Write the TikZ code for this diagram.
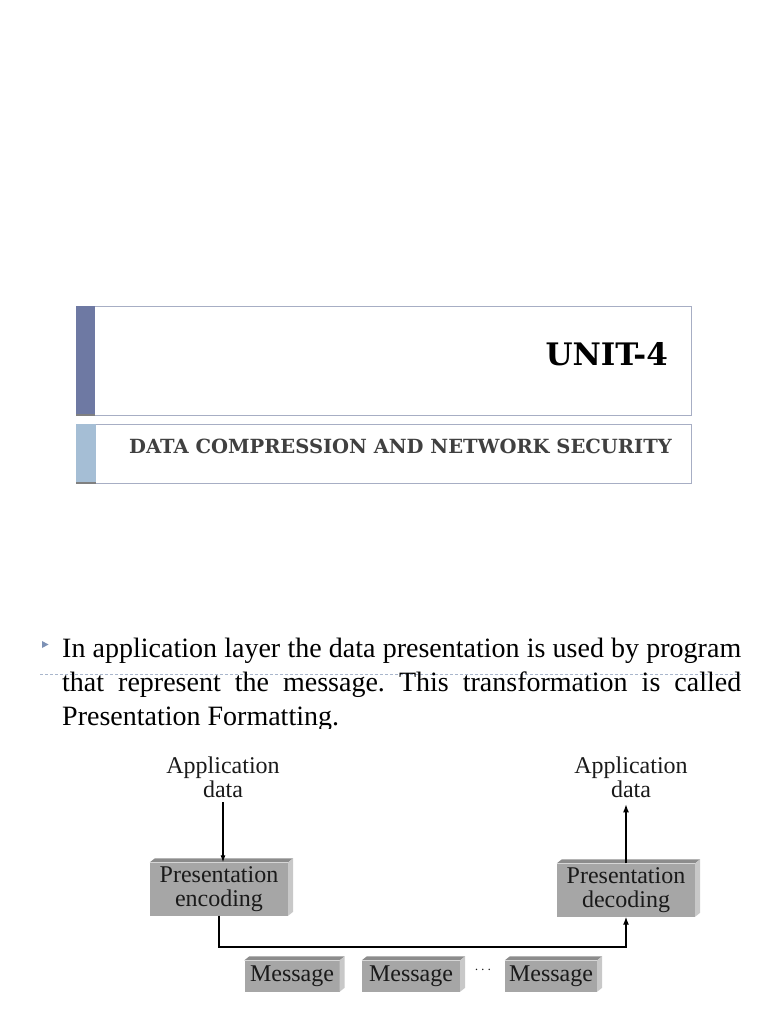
\documentclass[tikz,border=0pt]{standalone}
\usepackage{fontspec}
\setmainfont{Liberation Serif}
\newfontfamily\headfont{DejaVu Serif}
\usetikzlibrary{arrows.meta}
\definecolor{framec}{HTML}{A7AEC4}
\definecolor{barone}{HTML}{6E79A3}
\definecolor{bartwo}{HTML}{A5BED5}
\definecolor{bulletc}{HTML}{7D91B5}
\definecolor{dashc}{HTML}{A9B6CC}
\definecolor{boxfront}{HTML}{A6A6A6}
\definecolor{boxtop}{HTML}{8C8C8C}
\definecolor{boxside}{HTML}{C8C8C8}
\definecolor{subc}{HTML}{404040}
\definecolor{diatext}{HTML}{1A1A1A}
\newcommand{\facesof}[1]{%
  \fill[boxtop] (#1.north west) -- ++(5,-4) -- ([shift={(5,-4)}]#1.north east) -- (#1.north east) -- cycle;
  \fill[boxside] (#1.north east) -- ++(5,-4) -- ([shift={(5,-4)}]#1.south east) -- (#1.south east) -- cycle;}
\begin{document}
\begin{tikzpicture}[x=1bp,y=-1bp,
  hdrbox/.style={draw=framec, line width=1bp, inner sep=0, anchor=north west, minimum width=615bp},
  dia/.style={font=\fontsize{24bp}{24bp}\selectfont, align=center, inner sep=0, text=diatext},
  box3d/.style={dia, fill=boxfront, minimum height=53bp, minimum width=138bp},
  msgbox/.style={dia, fill=boxfront, minimum height=31bp},
  conn/.style={line width=1.4bp, -{Latex[length=8bp,width=6bp]}}]
\useasboundingbox (0,0) rectangle (768,1024);
\fill[white] (0,0) rectangle (768,1024);
% header boxes
\node[hdrbox, minimum height=109bp] (unitbox) at (76,306) {};
\fill[barone] (unitbox.north west) rectangle ([xshift=19bp]unitbox.south west);
\fill[gray] ([yshift=2bp]unitbox.south west) rectangle ([xshift=19bp]unitbox.south west);
\node[anchor=base east, inner sep=0, font=\headfont\bfseries\fontsize{31bp}{31bp}\selectfont] (unit) at (668,365) {UNIT-4};
\node[hdrbox, minimum height=59bp] (subbox) at (76,424) {};
\fill[bartwo] (subbox.north west) rectangle ([xshift=20bp]subbox.south west);
\fill[gray] ([yshift=2bp]subbox.south west) rectangle ([xshift=20bp]subbox.south west);
\node[anchor=base west, inner sep=0, text=subc, font=\headfont\bfseries\fontsize{19.5bp}{19.5bp}\selectfont] (sub) at (129,453) {DATA COMPRESSION AND NETWORK SECURITY};
% bullet text
\draw[dashc, line width=0.8bp, dash pattern=on 3bp off 2bp] (40,674) -- (741,674);
\fill[bulletc] (42,641) -- (48.5,644.5) -- (42,648) -- cycle;
\begin{scope}
\clip (0,600) rectangle (768,728);
\node[anchor=north west, inner sep=0, text width=679bp, align=justify, font=\fontsize{28bp}{34bp}\selectfont] (para) at (62,638) {\frenchspacing\hyphenpenalty=10000 In application layer the data presentation is used by program\linebreak that represent the message. This transformation is called\linebreak Presentation Formatting.};
\end{scope}
% diagram
\node[dia, anchor=north] (appL) at (223,757) {Application\\data};
\node[dia, anchor=north] (appR) at (631,757) {Application\\data};
\node[box3d] (enc) at (219,889) {Presentation\\encoding};
\node[box3d] (dec) at (626,890) {Presentation\\decoding};
\node[msgbox, minimum width=95bp] (m1) at (292,976) {Message};
\node[msgbox, minimum width=98bp] (m2) at (411,976) {Message};
\node[msgbox, minimum width=92bp] (m3) at (551,976) {Message};
\node[inner sep=0, font=\fontsize{14bp}{14bp}\selectfont, text=diatext] (dots) at (483,970) {$\cdots$};
\facesof{enc}\facesof{dec}\facesof{m1}\facesof{m2}\facesof{m3}
\coordinate (busy) at (0,947);
\draw[conn, line width=1.1bp, shorten <=4bp, -{Latex[length=7bp,width=5bp]}] (appL.south) -- (appL.south |- enc.north);
\draw[conn, shorten >=6bp] (dec.north) -- (dec.north |- appR.south);
\draw[conn] (enc.south) -- (enc.south |- busy) -| (dec.south);
\end{tikzpicture}
\end{document}
